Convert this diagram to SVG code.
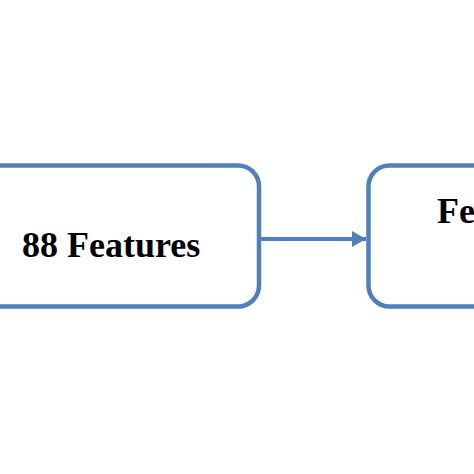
<svg xmlns="http://www.w3.org/2000/svg" width="474" height="474" viewBox="0 0 474 474">
<defs>
<style>
.box{fill:#fff;stroke:#4f7fbc;stroke-width:4.5}
.lbl{font-family:"Liberation Serif","Times New Roman",serif;font-weight:bold;font-size:36px;fill:#000}
.conn{stroke:#4f7fbc;stroke-width:4;fill:none}
</style>
<marker id="ah" markerUnits="userSpaceOnUse" markerWidth="16" markerHeight="18" refX="14" refY="9" orient="auto">
<path d="M0,1 L14,9 L0,17 Z" fill="#4f7fbc"/>
</marker>
</defs>
<rect width="474" height="474" fill="#fff"/>
<g id="node-features">
<rect class="box" x="-100" y="165.5" width="359" height="141" rx="21"/>
<text class="lbl" x="22" y="257">88 Features</text>
</g>
<g id="node-fe">
<rect class="box" x="368.5" y="165.5" width="200" height="141" rx="21"/>
<text class="lbl" x="437" y="223">Fe</text>
</g>
<g id="connectors">
<line class="conn" x1="261" y1="239" x2="366" y2="239" marker-end="url(#ah)"/>
</g>
</svg>
